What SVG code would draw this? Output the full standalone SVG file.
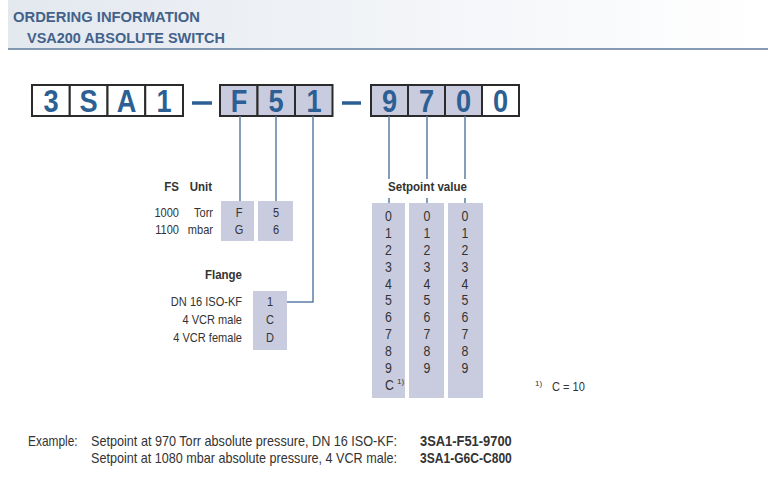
<svg xmlns="http://www.w3.org/2000/svg" width="768" height="488" viewBox="0 0 768 488">
<defs>
<linearGradient id="hdr" x1="0" y1="0" x2="1" y2="0">
<stop offset="0" stop-color="#e3e8ef"/>
<stop offset="0.55" stop-color="#f3f5f8"/>
<stop offset="1" stop-color="#ffffff"/>
</linearGradient>
<style>
.hd{font-family:"Liberation Sans",Arial,sans-serif;font-weight:bold;font-size:14px;fill:#43628a}
.big{font-family:"Liberation Sans",Arial,sans-serif;font-weight:bold;font-size:32px;fill:#2c5f93;text-anchor:middle}
.bw{fill:#ffffff;stroke:#2b2b2b;stroke-width:2}
.bs{fill:#c9cbdf;stroke:#2b2b2b;stroke-width:2}
.sh{fill:#c9cbdf}
.t{font-family:"Liberation Sans",Arial,sans-serif;font-size:13px;fill:#333}
.tb{font-family:"Liberation Sans",Arial,sans-serif;font-size:13.5px;font-weight:bold;fill:#333}
.r{text-anchor:end}
.m{text-anchor:middle}
.d{font-family:"Liberation Sans",Arial,sans-serif;font-size:14.5px;fill:#333;text-anchor:middle}
.sup{font-family:"Liberation Sans",Arial,sans-serif;font-size:8px;fill:#333}
.ex{font-family:"Liberation Sans",Arial,sans-serif;font-size:14px;fill:#333}
.exb{font-family:"Liberation Sans",Arial,sans-serif;font-size:14px;font-weight:bold;fill:#333}
.c{fill:none;stroke:#5b7ea6;stroke-width:1.5}
.dash{stroke:#2c5f93;stroke-width:3.5}
</style>
</defs>
<rect width="768" height="488" fill="#ffffff"/>
<g id="header">
<rect x="8" y="0" width="760" height="49" fill="url(#hdr)"/>
<line x1="8" y1="49" x2="768" y2="49" stroke="#5f7b9b" stroke-width="1.5"/>
<text class="hd" x="13" y="22" textLength="187" lengthAdjust="spacingAndGlyphs">ORDERING INFORMATION</text>
<text class="hd" x="27" y="43" textLength="198" lengthAdjust="spacingAndGlyphs">VSA200 ABSOLUTE SWITCH</text>
</g>
<g id="code">
<rect class="bw" x="32" y="85" width="37.75" height="31"/>
<rect class="bw" x="69.75" y="85" width="37.75" height="31"/>
<rect class="bw" x="107.5" y="85" width="37.75" height="31"/>
<rect class="bw" x="145.25" y="85" width="37.75" height="31"/>
<text class="big" transform="translate(51,112) scale(0.85,1)">3</text>
<text class="big" transform="translate(88.5,112) scale(0.85,1)">S</text>
<text class="big" transform="translate(126.5,112) scale(0.85,1)">A</text>
<text class="big" transform="translate(164,112) scale(0.85,1)">1</text>
<line class="dash" x1="192" y1="103" x2="212" y2="103"/>
<rect class="bs" x="220" y="85" width="37.5" height="31"/>
<rect class="bs" x="257.5" y="85" width="37.5" height="31"/>
<rect class="bs" x="295" y="85" width="37.5" height="31"/>
<text class="big" transform="translate(239,112) scale(0.85,1)">F</text>
<text class="big" transform="translate(276,112) scale(0.85,1)">5</text>
<text class="big" transform="translate(314,112) scale(0.85,1)">1</text>
<line class="dash" x1="342" y1="103" x2="361" y2="103"/>
<rect class="bs" x="371" y="85" width="37" height="31"/>
<rect class="bs" x="408" y="85" width="37" height="31"/>
<rect class="bs" x="445" y="85" width="37" height="31"/>
<rect class="bw" x="482" y="85" width="37" height="31"/>
<text class="big" transform="translate(389.5,112) scale(0.85,1)">9</text>
<text class="big" transform="translate(426.5,112) scale(0.85,1)">7</text>
<text class="big" transform="translate(463.5,112) scale(0.85,1)">0</text>
<text class="big" transform="translate(500.5,112) scale(0.85,1)">0</text>
</g>
<g id="connectors">
<path class="c" d="M240 116 V201"/>
<path class="c" d="M276 116 V201"/>
<path class="c" d="M313 116 V302 H287"/>
<path class="c" d="M389 116 V179 M389 198 V203"/>
<path class="c" d="M427 116 V179 M427 198 V203"/>
<path class="c" d="M465 116 V179 M465 198 V203"/>
</g>
<g id="fs-unit">
<text class="tb r" transform="translate(179,191) scale(0.85,1)">FS</text>
<text class="tb r" transform="translate(212,191) scale(0.85,1)">Unit</text>
<text class="t r" transform="translate(179,217) scale(0.85,1)">1000</text>
<text class="t r" transform="translate(213,217) scale(0.85,1)">Torr</text>
<text class="t r" transform="translate(179,234) scale(0.85,1)">1100</text>
<text class="t r" transform="translate(213,234) scale(0.85,1)">mbar</text>
<rect class="sh" x="221" y="201" width="33" height="40"/>
<rect class="sh" x="258" y="201" width="35" height="40"/>
<text class="t m" transform="translate(239,217) scale(0.85,1)">F</text>
<text class="t m" transform="translate(239,234) scale(0.85,1)">G</text>
<text class="t m" transform="translate(276,217) scale(0.85,1)">5</text>
<text class="t m" transform="translate(276,234) scale(0.85,1)">6</text>
</g>
<g id="flange">
<text class="tb r" transform="translate(242,279) scale(0.85,1)">Flange</text>
<text class="t r" transform="translate(242,306) scale(0.85,1)">DN 16 ISO-KF</text>
<text class="t r" transform="translate(242,324) scale(0.85,1)">4 VCR male</text>
<text class="t r" transform="translate(242,342) scale(0.85,1)">4 VCR female</text>
<rect class="sh" x="253" y="291" width="34" height="59"/>
<text class="t m" transform="translate(270,306) scale(0.85,1)">1</text>
<text class="t m" transform="translate(270,324) scale(0.85,1)">C</text>
<text class="t m" transform="translate(270,342) scale(0.85,1)">D</text>
</g>
<g id="setpoint">
<text class="tb" x="388" y="191" textLength="79" lengthAdjust="spacingAndGlyphs">Setpoint value</text>
<rect class="sh" x="372" y="203" width="33" height="195"/>
<rect class="sh" x="409" y="203" width="35" height="195"/>
<rect class="sh" x="448" y="203" width="35" height="195"/>
<g transform="translate(388.5,0) scale(0.85,1)">
<text class="d" x="0" y="221">0</text><text class="d" x="0" y="237.9">1</text><text class="d" x="0" y="254.8">2</text><text class="d" x="0" y="271.7">3</text><text class="d" x="0" y="288.6">4</text><text class="d" x="0" y="305.5">5</text><text class="d" x="0" y="322.4">6</text><text class="d" x="0" y="339.3">7</text><text class="d" x="0" y="356.2">8</text><text class="d" x="0" y="373.1">9</text><text class="d" x="1" y="390">C</text>
</g>
<text class="sup" x="397" y="384">1)</text>
<g transform="translate(427,0) scale(0.85,1)">
<text class="d" x="0" y="221">0</text><text class="d" x="0" y="237.9">1</text><text class="d" x="0" y="254.8">2</text><text class="d" x="0" y="271.7">3</text><text class="d" x="0" y="288.6">4</text><text class="d" x="0" y="305.5">5</text><text class="d" x="0" y="322.4">6</text><text class="d" x="0" y="339.3">7</text><text class="d" x="0" y="356.2">8</text><text class="d" x="0" y="373.1">9</text>
</g>
<g transform="translate(465,0) scale(0.85,1)">
<text class="d" x="0" y="221">0</text><text class="d" x="0" y="237.9">1</text><text class="d" x="0" y="254.8">2</text><text class="d" x="0" y="271.7">3</text><text class="d" x="0" y="288.6">4</text><text class="d" x="0" y="305.5">5</text><text class="d" x="0" y="322.4">6</text><text class="d" x="0" y="339.3">7</text><text class="d" x="0" y="356.2">8</text><text class="d" x="0" y="373.1">9</text>
</g>
</g>
<g id="footnote">
<text class="sup" x="535" y="386">1)</text>
<text class="t" transform="translate(552,391) scale(0.85,1)">C = 10</text>
</g>
<g id="example">
<text class="ex" transform="translate(28,446) scale(0.85,1)">Example:</text>
<text class="ex" transform="translate(91,446) scale(0.85,1)" textLength="360" lengthAdjust="spacingAndGlyphs">Setpoint at 970 Torr absolute pressure, DN 16 ISO-KF:</text>
<text class="ex" transform="translate(91,463) scale(0.85,1)" textLength="360" lengthAdjust="spacingAndGlyphs">Setpoint at 1080 mbar absolute pressure, 4 VCR male:</text>
<text class="exb" transform="translate(420,446) scale(0.85,1)" textLength="108" lengthAdjust="spacingAndGlyphs">3SA1-F51-9700</text>
<text class="exb" transform="translate(420,463) scale(0.85,1)" textLength="108" lengthAdjust="spacingAndGlyphs">3SA1-G6C-C800</text>
</g>
</svg>
